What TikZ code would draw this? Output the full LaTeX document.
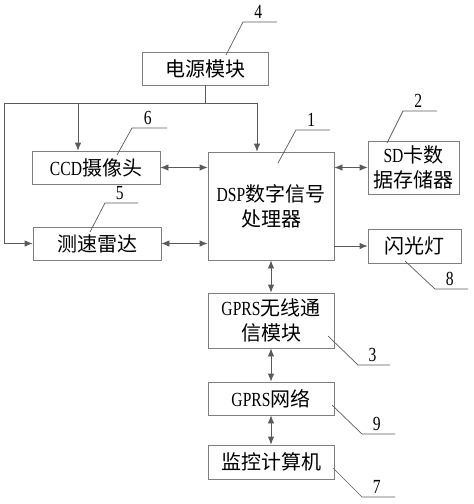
\documentclass[tikz,border=0pt]{standalone}
\usepackage{fontspec}
\setmainfont[FakeStretch=0.78]{Liberation Serif}
\newfontfamily\cjk{Noto Sans CJK SC}
\usepackage{xcolor}
\usepackage{tikz}
\usetikzlibrary{calc,arrows.meta}
\newcommand{\zh}[1]{{\cjk #1}}
\definecolor{boxgray}{HTML}{7F7F7F}
\definecolor{linegray}{HTML}{5A5A5A}

\begin{document}
\begin{tikzpicture}[x=1pt,y=-1pt,
  box/.style={draw=boxgray,line width=0.8pt,inner sep=0pt,align=center,
    font=\fontsize{20}{25}\selectfont},
  num/.style={above,inner sep=3pt,pos=0.45,font=\fontsize{20}{24}\selectfont},
  lead/.style={draw=linegray,line width=0.7pt},
  conn/.style={draw=linegray,line width=0.8pt,arrows={-Latex[length=8pt,width=6.5pt]}},
  bi/.style={conn,arrows={Latex[length=8pt,width=6.5pt]-Latex[length=8pt,width=6.5pt]}}]
\useasboundingbox (0,0) rectangle (474,504);

\node[box,minimum width=126,minimum height=33] (power) at (205,68.5) {\zh{电源模块}};
\node[box,minimum width=128,minimum height=33] (ccd) at (96,167.5) {CCD\zh{摄像头}};
\node[box,minimum width=126,minimum height=108] (dsp) at (271,206) {DSP\zh{数字信号}\\\zh{处理器}};
\node[box,minimum width=91,minimum height=53] (sd) at (413.5,167.5) {SD\zh{卡数}\\\zh{据存储器}};
\node[box,minimum width=128,minimum height=33] (radar) at (97,243.5) {\zh{测速雷达}};
\node[box,minimum width=93,minimum height=34] (flash) at (414.5,246) {\zh{闪光灯}};
\node[box,minimum width=126,minimum height=55] (gprs) at (271,320.5) {GPRS\zh{无线通}\\\zh{信模块}};
\node[box,minimum width=126,minimum height=33] (net) at (271,398.5) {GPRS\zh{网络}};
\node[box,minimum width=126,minimum height=34] (pc) at (271,462) {\zh{监控计算机}};

% power supply lines
\coordinate (bus) at (205,103);
\coordinate (busl) at (4,103);
\coordinate (busc) at (78,103);
\coordinate (busr) at (257,103);
\draw[lead,line width=0.8pt] (power.south) -- (bus);
\draw[lead,line width=0.8pt] (busl) -- (busr);
\draw[conn] (busc) -- (busc |- ccd.north);
\draw[conn] (busr) -- (busr |- dsp.north);
\draw[conn] (busl) |- (radar.west);

% data lines
\draw[bi] (ccd.east) -- (dsp.west |- ccd.east);
\draw[bi] (radar.east) -- (dsp.west |- radar.east);
\draw[bi] (dsp.east |- sd.west) -- (sd.west);
\draw[conn] (dsp.east |- flash.west) -- (flash.west);
\draw[bi] (dsp.south) -- (gprs.north);
\draw[bi] (gprs.south) -- (net.north);
\draw[bi] (net.south) -- (pc.north);

% reference numbers
\draw[lead] (226,55) -- (243,22) -- node[num] (n4) {4} (277,22);
\draw[lead] (117,155) -- (132,128) -- node[num] (n6) {6} (167,128);
\draw[lead] (278,163) -- (296,130) -- node[num] (n1) {1} (330,130);
\draw[lead] (387,143) -- (403,111) -- node[num] (n2) {2} (437,111);
\draw[lead] (90,232) -- (105,203) -- node[num] (n5) {5} (138,203);
\draw[lead] (405,261) -- (435,289) -- node[num] (n8) {8} (468,289);
\draw[lead] (328,336) -- (358,365) -- node[num] (n3) {3} (390,365);
\draw[lead] (332,405) -- (362,434) -- node[num] (n9) {9} (395,434);
\draw[lead] (333,468) -- (362,497) -- node[num] (n7) {7} (395,497);
\end{tikzpicture}
\end{document}
